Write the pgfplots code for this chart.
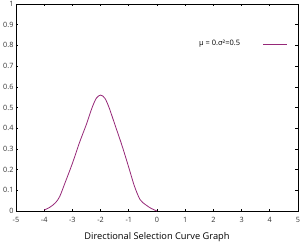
\documentclass[border=0pt]{standalone}
\usepackage{pgfplots}
\pgfplotsset{compat=1.18}
\usepackage{fontspec}
\setmainfont{Open Sans}
\definecolor{curve}{RGB}{150,40,120}
\begin{document}
\begin{tikzpicture}
\useasboundingbox (-16bp,-39bp) rectangle (286bp,211bp);
\begin{axis}[
  scale only axis, width=282bp, height=207bp,
  xmin=-5, xmax=5, ymin=0, ymax=1,
  xtick={-5,...,5}, ytick={0,0.1,...,1},
  yticklabels={0,0.1,0.2,0.3,0.4,0.5,0.6,0.7,0.8,0.9,1},
  tick align=inside, tick pos=both,
  major tick length=2.5bp,
  tick style={black, line width=0.6pt},
  axis line style={black, line width=0.8pt},
  /pgf/number format/assume math mode=true,
  tick label style={font=\fontsize{7.3}{8}\selectfont, text=black!80},
  xticklabel style={yshift=-3bp},
  yticklabel style={xshift=1bp},
  xlabel={Directional Selection Curve Graph},
  xlabel style={font=\fontsize{9.3}{11}\selectfont, yshift=-3bp},
  legend plot pos=right,
  legend style={draw=none, fill=none, at={(0.965,0.807)}, anchor=east,
    font=\fontsize{7.5}{8}\selectfont, inner sep=0pt},
  legend image code/.code={\path (0bp,0bp); \draw[curve, line width=0.9pt] (21bp,0bp) -- (45bp,0bp);},
]
\addplot[curve, line width=0.8pt, smooth, tension=0.5] coordinates {
(-4,0.005) (-3.8,0.018) (-3.6,0.04) (-3.45,0.07) (-3.25,0.14) (-3,0.23)
(-2.75,0.33) (-2.5,0.42) (-2.3,0.50) (-2.15,0.545) (-2,0.56) (-1.85,0.545)
(-1.7,0.50) (-1.5,0.42) (-1.25,0.32) (-1,0.21) (-0.8,0.12) (-0.6,0.055)
(-0.4,0.03) (-0.2,0.012) (0,0)
};
\addlegendentry{μ = 0.σ²=0.5}
\end{axis}
\end{tikzpicture}
\end{document}
